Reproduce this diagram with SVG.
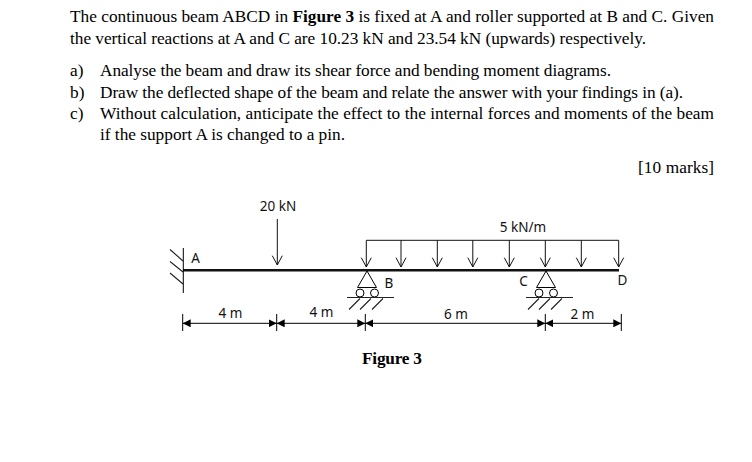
<svg xmlns="http://www.w3.org/2000/svg" width="752" height="462" viewBox="0 0 752 462">
<style>
.t{font-family:"Liberation Serif","Times New Roman",serif;font-size:17.3px;fill:#000}
.l{font-family:"Noto Sans","Open Sans",sans-serif;font-size:13.5px;fill:#111}
.s{stroke:#000;stroke-width:1;fill:none}
.g{stroke:#222;stroke-width:1.1;fill:none}
.a{stroke:#111;stroke-width:1;fill:none}
.d{stroke:#000;stroke-width:1;fill:none;marker-start:url(#h);marker-end:url(#h)}
</style>
<defs>
<marker id="h" viewBox="0 0 8 8" refX="8" refY="4" markerWidth="8" markerHeight="8" markerUnits="userSpaceOnUse" orient="auto-start-reverse"><path d="M0 0L8 4L0 8Z" fill="#000"/></marker>
<path id="ar" d="M-5 -9.3L0 0L5 -9.3" class="a"/>
<g id="roller">
<path d="M0 0L-9.5 16.500H9.500Z" class="s"/>
<circle cx="-7" cy="22" r="4" class="s"/><circle cx="7.500" cy="22" r="4" class="s"/>
<path d="M-20 26.500H27" class="g"/>
<path d="M-18 38.500L-7 27.500M-7 38.500L4 27.500M5 38.500L16 27.500" class="g"/>
</g>
</defs>
<rect width="752" height="462" fill="#fff"/>
<g id="text">
<text class="t" x="70" y="22" textLength="644">The continuous beam ABCD in <tspan font-weight="bold">Figure 3</tspan> is fixed at A and roller supported at B and C. Given</text>
<text class="t" x="70" y="44" textLength="576">the vertical reactions at A and C are 10.23 kN and 23.54 kN (upwards) respectively.</text>
<text class="t" x="70" y="76">a)</text><text class="t" x="100" y="76" textLength="511">Analyse the beam and draw its shear force and bending moment diagrams.</text>
<text class="t" x="70" y="98">b)</text><text class="t" x="100" y="98" textLength="583">Draw the deflected shape of the beam and relate the answer with your findings in (a).</text>
<text class="t" x="70" y="119">c)</text><text class="t" x="100" y="119" textLength="614">Without calculation, anticipate the effect to the internal forces and moments of the beam</text>
<text class="t" x="100" y="140" textLength="245">if the support A is changed to a pin.</text>
<text class="t" x="638" y="173" textLength="76">[10 marks]</text>
<text class="t" x="362" y="364" font-weight="bold" textLength="60">Figure 3</text>
</g>
<g id="beam">
<path d="M183 270.300H619" stroke="#111" stroke-width="2.400" fill="none"/>
<text class="l" x="195.500" y="263" text-anchor="middle">A</text>
</g>
<g id="support-a">
<path d="M183.300 248V293" class="s"/>
<path d="M170 249.500L183 261M170 261.500L183 272M170 273L183 284" class="g"/>
</g>
<g id="support-b">
<use href="#roller" x="367" y="271"/>
<text class="l" x="389" y="288" text-anchor="middle">B</text>
</g>
<g id="support-c">
<use href="#roller" x="546" y="271"/>
<text class="l" x="523.500" y="286" text-anchor="middle">C</text>
</g>
<g id="node-d"><text class="l" x="622.500" y="285" text-anchor="middle">D</text></g>
<g id="connectors">
<path d="M277.300 219V265" class="a"/><use href="#ar" x="277.300" y="265"/>
<path d="M366.300 267V240.300H618.700V267" class="a"/>
<path d="M401 240.300V267M437.300 240.300V267M472.800 240.300V267M509.300 240.300V267M545.300 240.300V267M581.300 240.300V267" class="a"/>
<use href="#ar" x="366.300" y="267"/><use href="#ar" x="401" y="267"/><use href="#ar" x="437.300" y="267"/><use href="#ar" x="472.800" y="267"/><use href="#ar" x="509.300" y="267"/><use href="#ar" x="545.300" y="267"/><use href="#ar" x="581.300" y="267"/><use href="#ar" x="618.700" y="267"/>
<path d="M182.700 314V331M276.700 314V331M365.300 314V331M545.300 314V331M621.300 314V331" class="s"/>
<path d="M182.700 323.300H276.700" class="d"/><path d="M276.700 323.300H365.300" class="d"/><path d="M365.300 323.300H545.300" class="d"/><path d="M545.300 323.300H621.300" class="d"/>
</g>
<g id="labels">
<text class="l" x="278" y="211" text-anchor="middle">20 kN</text>
<text class="l" x="523" y="232" text-anchor="middle">5 kN/m</text>
<text class="l" x="230.500" y="318" text-anchor="middle">4 m</text>
<text class="l" x="321.500" y="317" text-anchor="middle">4 m</text>
<text class="l" x="456" y="319" text-anchor="middle">6 m</text>
<text class="l" x="582.500" y="319" text-anchor="middle">2 m</text>
</g>
</svg>
